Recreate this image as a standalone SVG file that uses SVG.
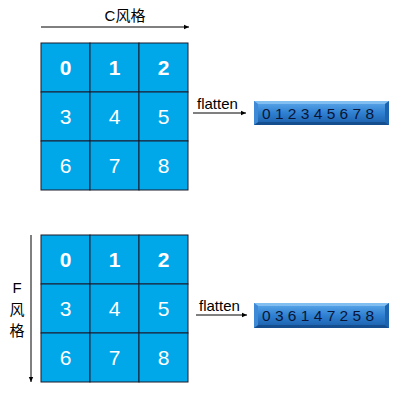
<svg xmlns="http://www.w3.org/2000/svg" width="400" height="400" viewBox="0 0 400 400">
<style>
.cell{fill:#00a8ea;stroke:#1a1a2a;stroke-width:1}
.d{font-family:"Liberation Sans",Arial,sans-serif;font-size:21px;fill:#ffffff;text-anchor:middle}
.b{font-weight:bold}
.lbl{font-family:"Liberation Sans","Noto Sans CJK SC",sans-serif;font-size:15px;fill:#000}
.seq{font-family:"Liberation Sans",Arial,sans-serif;font-size:15.5px;fill:#0a1535}
.ln{stroke:#000;stroke-width:1;fill:none}
</style>
<defs>
<marker id="ah" markerWidth="6" markerHeight="6" refX="5" refY="3" orient="auto" markerUnits="userSpaceOnUse">
<path d="M0,0.8 L5,3 L0,5.2 Z" fill="#000"/>
</marker>
<linearGradient id="bg" x1="0" y1="0" x2="0" y2="1">
<stop offset="0" stop-color="#5eaaea"/>
<stop offset="0.5" stop-color="#2f80d2"/>
<stop offset="1" stop-color="#1a5ea8"/>
</linearGradient>
</defs>
<g id="grid-c">
<rect class="cell" x="41" y="43" width="49" height="49"/>
<rect class="cell" x="90" y="43" width="49" height="49"/>
<rect class="cell" x="139" y="43" width="49" height="49"/>
<rect class="cell" x="41" y="92" width="49" height="49"/>
<rect class="cell" x="90" y="92" width="49" height="49"/>
<rect class="cell" x="139" y="92" width="49" height="49"/>
<rect class="cell" x="41" y="141" width="49" height="49"/>
<rect class="cell" x="90" y="141" width="49" height="49"/>
<rect class="cell" x="139" y="141" width="49" height="49"/>
<text class="d b" x="65.5" y="75">0</text>
<text class="d b" x="114.5" y="75">1</text>
<text class="d b" x="163.5" y="75">2</text>
<text class="d" x="65.5" y="124">3</text>
<text class="d" x="114.5" y="124">4</text>
<text class="d" x="163.5" y="124">5</text>
<text class="d" x="65.5" y="173">6</text>
<text class="d" x="114.5" y="173">7</text>
<text class="d" x="163.5" y="173">8</text>
</g>
<g id="grid-f">
<rect class="cell" x="41" y="235" width="49" height="49"/>
<rect class="cell" x="90" y="235" width="49" height="49"/>
<rect class="cell" x="139" y="235" width="49" height="49"/>
<rect class="cell" x="41" y="284" width="49" height="49"/>
<rect class="cell" x="90" y="284" width="49" height="49"/>
<rect class="cell" x="139" y="284" width="49" height="49"/>
<rect class="cell" x="41" y="333" width="49" height="49"/>
<rect class="cell" x="90" y="333" width="49" height="49"/>
<rect class="cell" x="139" y="333" width="49" height="49"/>
<text class="d b" x="65.5" y="267">0</text>
<text class="d b" x="114.5" y="267">1</text>
<text class="d b" x="163.5" y="267">2</text>
<text class="d" x="65.5" y="316">3</text>
<text class="d" x="114.5" y="316">4</text>
<text class="d" x="163.5" y="316">5</text>
<text class="d" x="65.5" y="365">6</text>
<text class="d" x="114.5" y="365">7</text>
<text class="d" x="163.5" y="365">8</text>
</g>
<g id="label-c">
<text class="lbl" x="125" y="21" text-anchor="middle">C风格</text>
</g>
<g id="label-f">
<text class="lbl" x="17" y="293" text-anchor="middle">F</text>
<text class="lbl" x="17" y="315" text-anchor="middle">风</text>
<text class="lbl" x="17" y="336" text-anchor="middle">格</text>
</g>
<g id="result-c">
<rect x="254" y="101" width="135" height="24" fill="url(#bg)"/>
<polygon points="254,101 389,101 385,104 258,104" fill="#8cc4f2" opacity="0.8"/>
<polygon points="254,125 389,125 385,122 258,122" fill="#144a88" opacity="0.8"/>
<polygon points="254,101 258,104 258,122 254,125" fill="#3f8ad6"/>
<polygon points="389,101 385,104 385,122 389,125" fill="#1d64b0"/>
<text class="seq" x="262" y="118.5">0 1 2 3 4 5 6 7 8</text>
</g>
<g id="result-f">
<rect x="254" y="303" width="135" height="25" fill="url(#bg)"/>
<polygon points="254,303 389,303 385,306 258,306" fill="#8cc4f2" opacity="0.8"/>
<polygon points="254,328 389,328 385,325 258,325" fill="#144a88" opacity="0.8"/>
<polygon points="254,303 258,306 258,325 254,328" fill="#3f8ad6"/>
<polygon points="389,303 385,306 385,325 389,328" fill="#1d64b0"/>
<text class="seq" x="262" y="321">0 3 6 1 4 7 2 5 8</text>
</g>
<g id="connectors">
<line class="ln" x1="41" y1="27" x2="189" y2="27" marker-end="url(#ah)"/>
<line class="ln" x1="31" y1="235" x2="31" y2="382" marker-end="url(#ah)"/>
<line class="ln" x1="193" y1="113" x2="246" y2="113" marker-end="url(#ah)"/>
<text class="lbl" x="197" y="109" font-size="14">flatten</text>
<line class="ln" x1="196" y1="315" x2="247" y2="315" marker-end="url(#ah)"/>
<text class="lbl" x="199" y="311" font-size="14">flatten</text>
</g>
</svg>
